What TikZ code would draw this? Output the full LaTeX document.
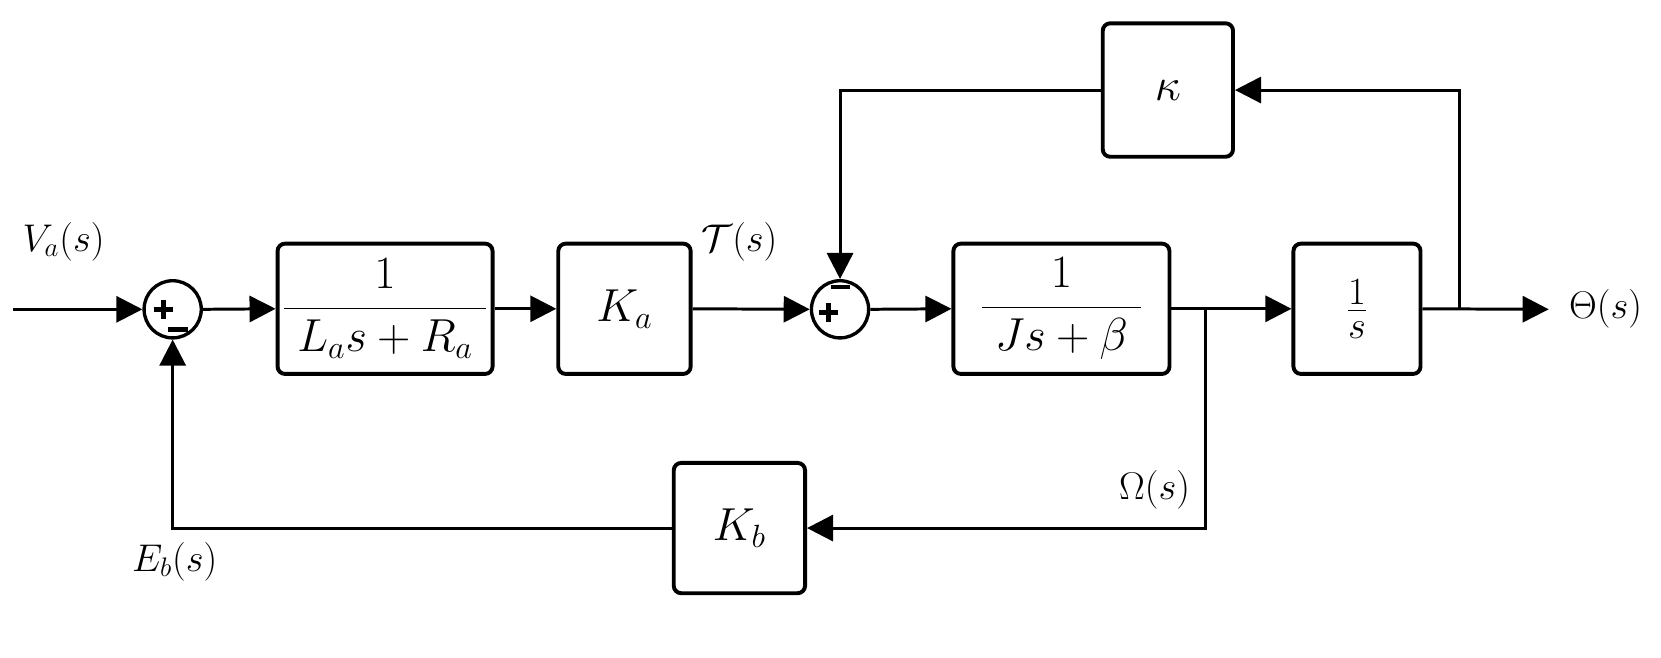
\documentclass[tikz,border=0pt]{standalone}
\usetikzlibrary{arrows.meta}
\begin{document}
\begin{tikzpicture}[x=0.02cm,y=-0.02cm,
  blk/.style={draw,line width=2.1pt,rounded corners=4pt,inner sep=0pt,font=\fontsize{25}{30}\selectfont},
  sum/.style={draw,circle,line width=1.8pt,minimum size=1.08cm,inner sep=0pt},
  sig/.style={line width=1.6pt,-{Triangle[length=14pt,width=14pt]}},
  sg/.style={line width=2.6pt},
  lab/.style={font=\fontsize{22}{26}\selectfont}]
\useasboundingbox (0,0) rectangle (1568,621);
\node[sum] (s1) at (163,292) {};
\node[sum] (s2) at (793,292) {};
\node[blk,minimum width=4.06cm,minimum height=2.46cm] (b1) at (363.5,291.5) {$\displaystyle\frac{1}{\;L_a s+R_a\;}$};
\node[blk,minimum width=2.5cm,minimum height=2.46cm] (ka) at (589.5,291.5) {$K_a$};
\node[blk,minimum width=4.08cm,minimum height=2.46cm] (b3) at (1002,291.5) {$\displaystyle\frac{1}{\;Js+\beta\;}$};
\node[blk,minimum width=2.4cm,minimum height=2.46cm,font=\fontsize{32}{36}\selectfont] (is) at (1281,291.5) {$\frac{1}{s}$};
\node[blk,minimum width=2.46cm,minimum height=2.52cm,font=\fontsize{28}{32}\selectfont] (kap) at (1102.5,85) {$\kappa$};
\node[blk,minimum width=2.48cm,minimum height=2.46cm] (kb) at (698,498.5) {$K_b$};
\coordinate (in) at (12,292);
\coordinate (out) at (1462,292);
\coordinate (br1) at (1378,292);
\coordinate (br2) at (1138,292);
% signs
\draw[sg] (145,292)--(163,292) (154,283)--(154,301);
\draw[sg] (159,311)--(177,311);
\draw[sg] (773,295)--(791,295) (782,286)--(782,304);
\draw[sg] (784,271)--(802,271);
% signals
\draw[sig] (in) -- (s1.west);
\draw[sig] (s1.east) -- (b1.west);
\draw[sig] (b1.east) -- (ka.west);
\draw[sig] (ka.east) -- (s2.west);
\draw[sig] (s2.east) -- (b3.west);
\draw[sig] (b3.east) -- (is.west);
\draw[sig] (is.east) -- (out);
\draw[sig] (br1) |- (kap.east);
\draw[sig] (kap.west) -| (s2.north);
\draw[sig] (br2) |- (kb.east);
\draw[sig] (kb.west) -| (s1.south);
% labels
\node[lab] (lva) at (60,228) {$V_a(s)$};
\node[lab] (lt) at (698,228) {$\mathcal{T}(s)$};
\node[lab,anchor=west] (lth) at (1475,292) {$\Theta(s)$};
\node[lab] (lom) at (1090,462) {$\Omega(s)$};
\node[lab] (leb) at (165,530) {$E_b(s)$};
\end{tikzpicture}
\end{document}
